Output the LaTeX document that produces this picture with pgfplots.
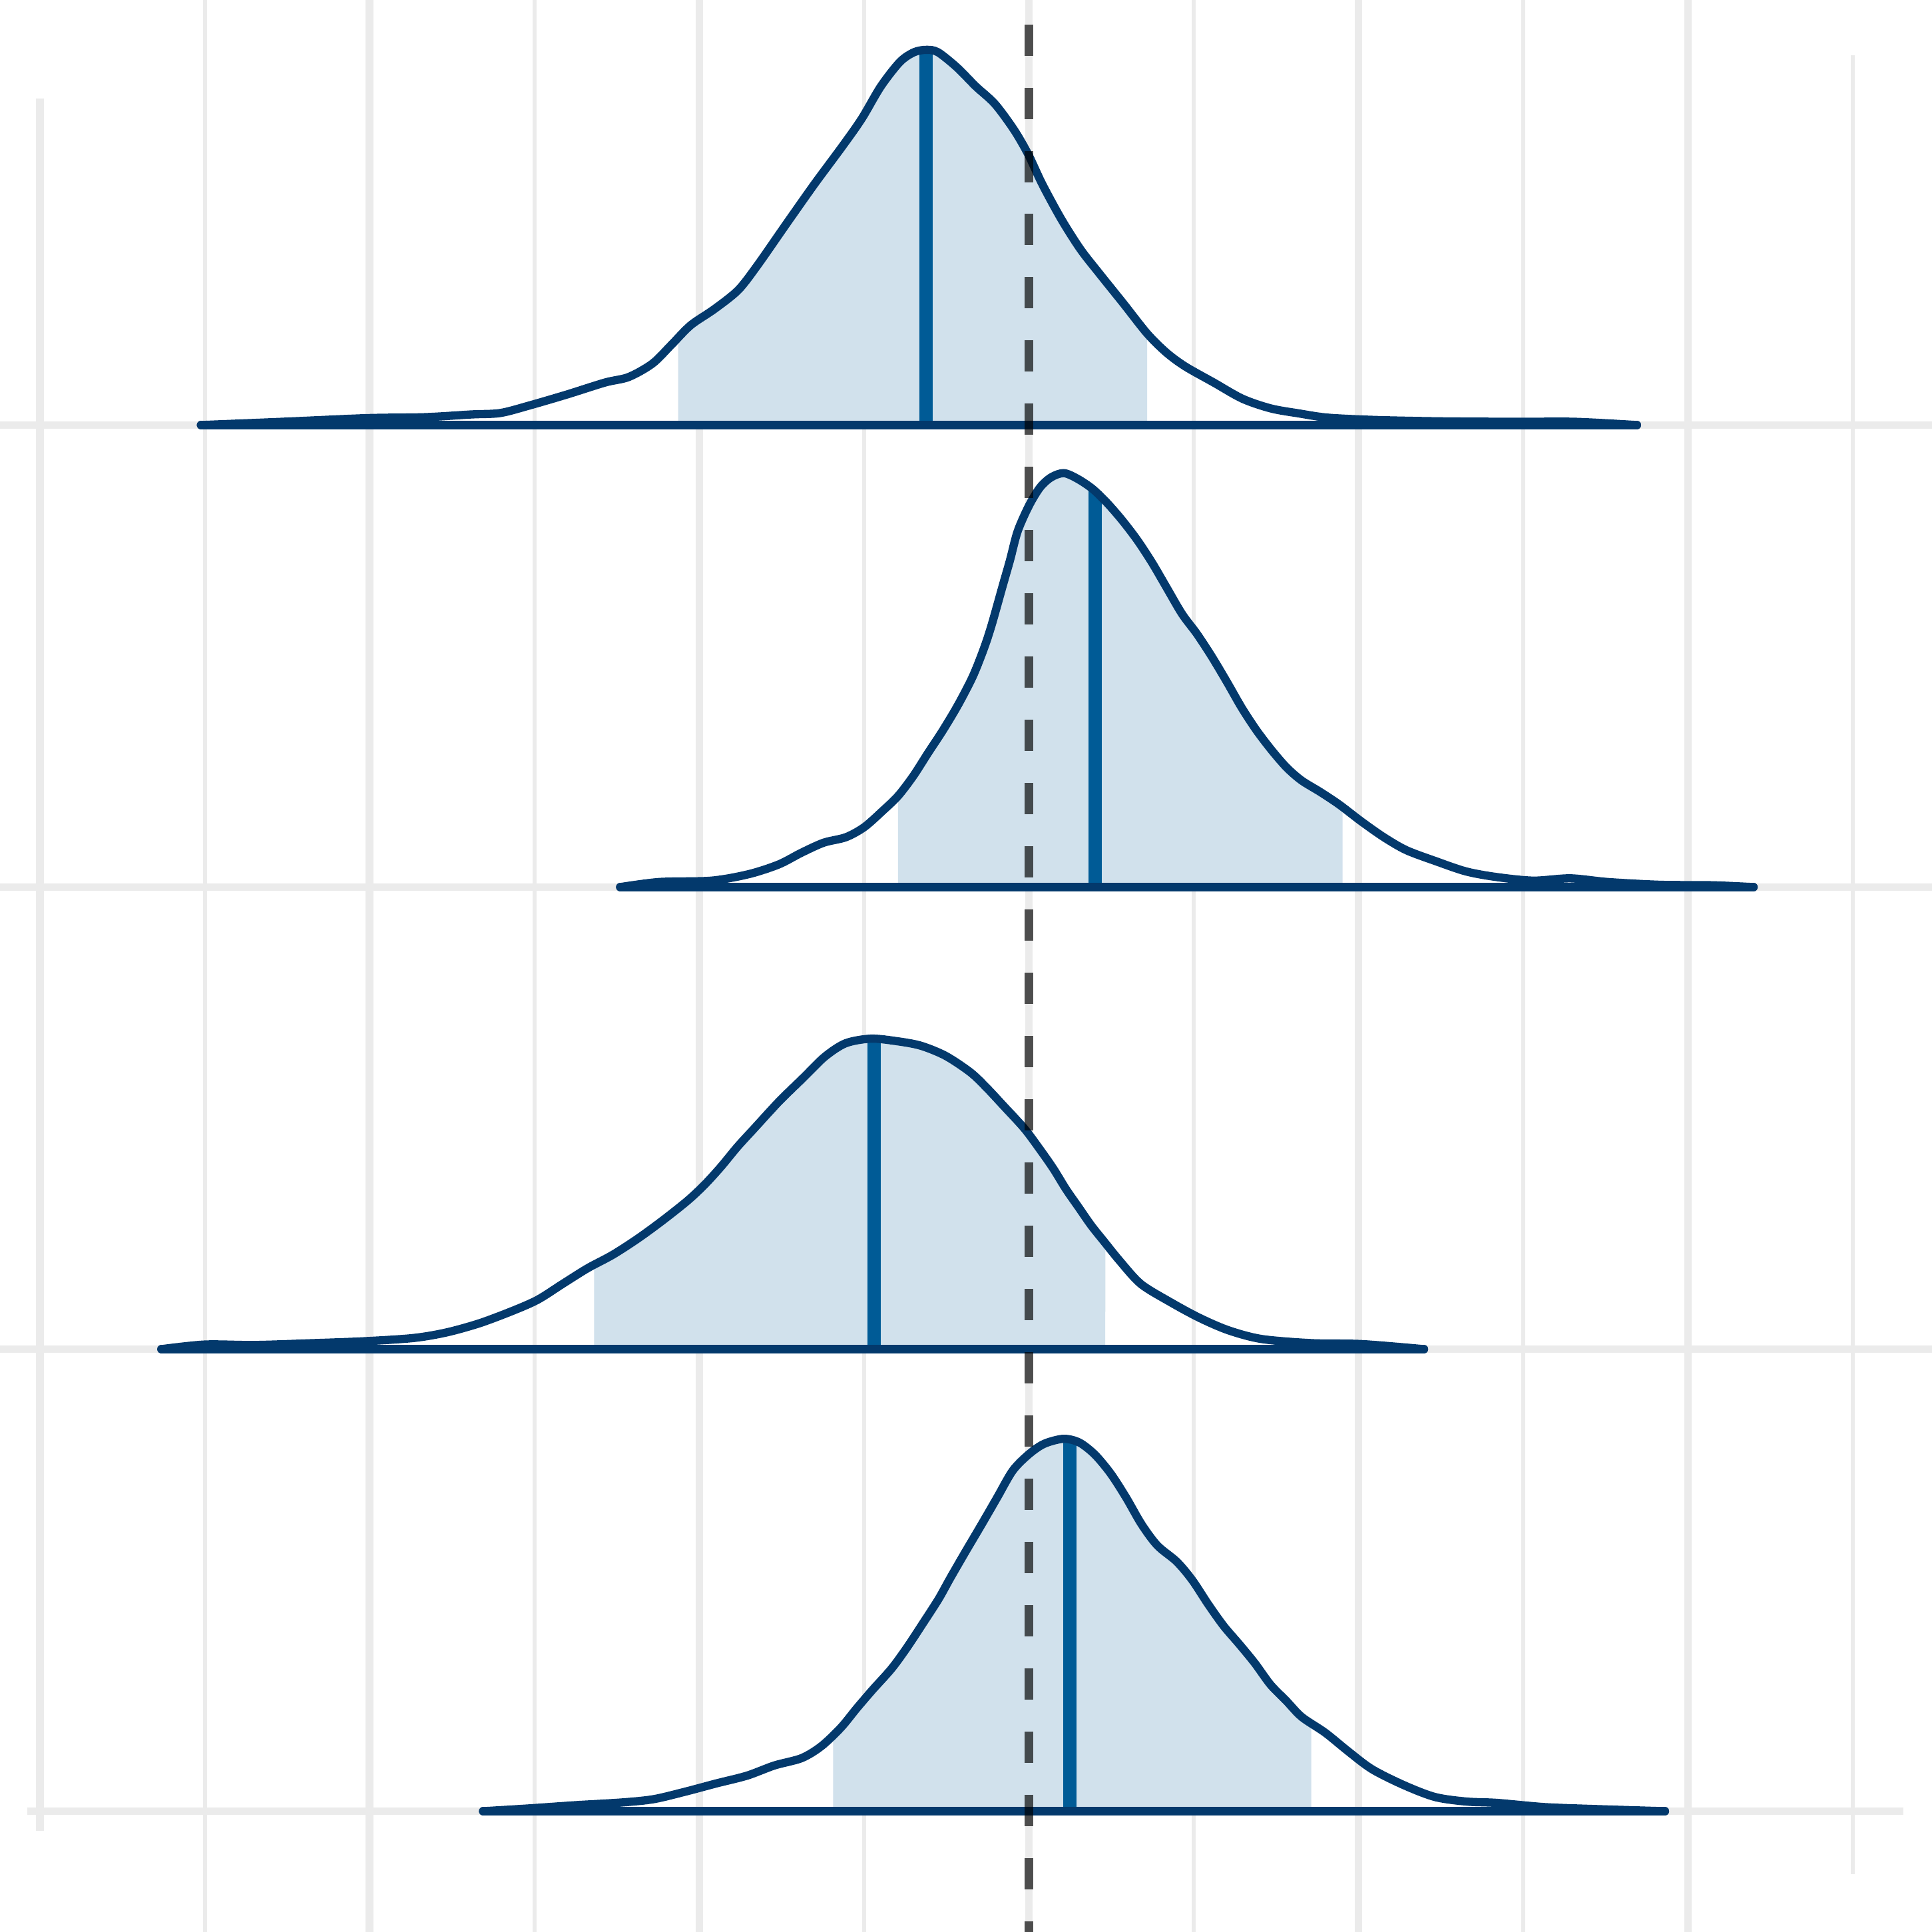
\documentclass[border=0pt]{standalone}
\usepackage{pgfplots}
\pgfplotsset{compat=1.18}
\usepackage{pgfplotstable}
\usepgfplotslibrary{fillbetween}
\definecolor{gridc}{HTML}{EBEBEB}
\definecolor{outl}{HTML}{03396C}
\definecolor{medc}{HTML}{005B96}
\definecolor{fillc}{HTML}{D1E1EC}

\pgfplotstableread{
x y
-2.512 4.000
-2.267 4.007
-2.008 4.015
-1.834 4.017
-1.690 4.023
-1.604 4.026
-1.517 4.042
-1.402 4.066
-1.286 4.092
-1.214 4.104
-1.142 4.133
-1.084 4.174
-1.026 4.216
-0.954 4.251
-0.882 4.292
-0.824 4.345
-0.738 4.433
-0.651 4.521
-0.565 4.604
-0.507 4.663
-0.449 4.733
-0.391 4.786
-0.348 4.807
-0.311 4.812
-0.276 4.807
-0.218 4.774
-0.161 4.733
-0.103 4.695
-0.045 4.639
-0.002 4.586
0.041 4.521
0.099 4.445
0.157 4.380
0.215 4.327
0.287 4.263
0.359 4.198
0.417 4.157
0.474 4.127
0.561 4.092
0.648 4.057
0.734 4.036
0.821 4.025
0.907 4.016
1.052 4.011
1.254 4.008
1.485 4.007
1.658 4.007
1.845 4.000
}\rA

\pgfplotstableread{
x y
-1.240 3.000
-1.122 3.011
-0.963 3.014
-0.850 3.028
-0.759 3.049
-0.691 3.074
-0.623 3.096
-0.555 3.108
-0.499 3.130
-0.442 3.166
-0.397 3.197
-0.351 3.240
-0.306 3.290
-0.261 3.339
-0.215 3.394
-0.170 3.456
-0.136 3.517
-0.113 3.567
-0.079 3.653
-0.057 3.708
-0.034 3.770
0.000 3.825
0.034 3.865
0.068 3.887
0.106 3.896
0.147 3.884
0.193 3.862
0.238 3.831
0.283 3.794
0.329 3.751
0.374 3.702
0.419 3.647
0.465 3.591
0.510 3.548
0.555 3.499
0.601 3.444
0.646 3.388
0.691 3.339
0.737 3.296
0.782 3.259
0.827 3.231
0.884 3.206
0.941 3.179
1.009 3.142
1.077 3.108
1.145 3.080
1.235 3.056
1.326 3.034
1.417 3.022
1.530 3.014
1.643 3.019
1.757 3.011
1.916 3.005
2.074 3.004
2.199 3.000
}\rB

\pgfplotstableread{
x y
-2.632 2.000
-2.500 2.010
-2.349 2.009
-2.172 2.013
-2.021 2.017
-1.869 2.024
-1.768 2.036
-1.667 2.056
-1.566 2.083
-1.490 2.107
-1.415 2.141
-1.339 2.175
-1.263 2.204
-1.187 2.239
-1.112 2.278
-1.036 2.321
-0.985 2.355
-0.935 2.394
-0.884 2.438
-0.834 2.477
-0.758 2.536
-0.682 2.589
-0.619 2.633
-0.556 2.662
-0.480 2.672
-0.405 2.667
-0.329 2.657
-0.253 2.635
-0.177 2.599
-0.127 2.565
-0.076 2.526
-0.013 2.477
0.037 2.429
0.075 2.390
0.113 2.346
0.151 2.307
0.189 2.268
0.227 2.234
0.277 2.190
0.340 2.141
0.429 2.102
0.517 2.068
0.605 2.041
0.706 2.022
0.858 2.013
1.010 2.011
1.199 2.000
}\rC

\pgfplotstableread{
x y
-1.656 1.000
-1.518 1.006
-1.376 1.013
-1.234 1.019
-1.139 1.026
-1.044 1.042
-0.949 1.060
-0.855 1.077
-0.772 1.099
-0.689 1.115
-0.629 1.141
-0.570 1.181
-0.523 1.222
-0.475 1.262
-0.416 1.309
-0.369 1.355
-0.321 1.407
-0.274 1.459
-0.238 1.505
-0.191 1.563
-0.143 1.621
-0.096 1.679
-0.049 1.737
-0.001 1.772
0.046 1.795
0.105 1.806
0.153 1.798
0.200 1.772
0.248 1.731
0.295 1.679
0.342 1.621
0.390 1.575
0.449 1.540
0.496 1.500
0.544 1.448
0.591 1.401
0.639 1.361
0.686 1.320
0.733 1.274
0.781 1.239
0.828 1.204
0.899 1.170
0.970 1.129
1.041 1.091
1.136 1.057
1.231 1.031
1.326 1.021
1.421 1.018
1.563 1.009
1.705 1.005
1.930 1.000
}\rD

\begin{document}
\begin{tikzpicture}
\begin{axis}[
  name=ax,
  scale only axis, width=400pt, height=400pt,
  xmin=-3.1215, xmax=2.7402, ymin=0.7387, ymax=4.92,
  axis line style={draw=none},
  xtick={-2,-1,0,1,2},
  minor xtick={-2.5,-1.5,-0.5,0.5,1.5},
  ytick={2,3,4},
  grid=both,
  major grid style={gridc, line width=1.6pt},
  minor grid style={gridc, line width=0.8pt},
  xticklabels={}, yticklabels={},
  major tick length=0pt, minor tick length=0pt,
]
% partial grid lines
\draw[gridc, line width=1.6pt] (axis cs:-3,0.957) -- (axis cs:-3,4.707);
\draw[gridc, line width=0.8pt] (axis cs:2.5,0.864) -- (axis cs:2.5,4.80);
\draw[gridc, line width=1.6pt] (axis cs:-3.039,1) -- (axis cs:2.654,1);

% ridge 1
\addplot[draw=none, name path=c1, smooth] table {\rA};
\addplot[draw=none, name path=b1] coordinates {(-3.2,4) (2.8,4)};
\addplot[fillc, draw=none] fill between[of=c1 and b1, soft clip={domain=-1.064:0.359}];
\addplot[medc, line width=2.76pt] coordinates {(-0.311,4) (-0.311,4.812)};
\addplot[outl, line width=1.7pt, line cap=round] coordinates {(-2.512,4) (1.845,4)};
\addplot[outl, line width=1.7pt, smooth, line cap=round, line join=round] table {\rA};

% ridge 2
\addplot[draw=none, name path=c2, smooth] table {\rB};
\addplot[draw=none, name path=b2] coordinates {(-3.2,3) (2.8,3)};
\addplot[fillc, draw=none] fill between[of=c2 and b2, soft clip={domain=-0.397:0.952}];
\addplot[medc, line width=2.76pt] coordinates {(0.202,3) (0.202,3.856)};
\addplot[outl, line width=1.7pt, line cap=round] coordinates {(-1.240,3) (2.199,3)};
\addplot[outl, line width=1.7pt, smooth, line cap=round, line join=round] table {\rB};

% ridge 3
\addplot[draw=none, name path=c3, smooth] table {\rC};
\addplot[draw=none, name path=b3] coordinates {(-3.2,2) (2.8,2)};
\addplot[fillc, draw=none] fill between[of=c3 and b3, soft clip={domain=-1.319:0.232}];
\addplot[medc, line width=2.76pt] coordinates {(-0.470,2) (-0.470,2.672)};
\addplot[outl, line width=1.7pt, line cap=round] coordinates {(-2.632,2) (1.199,2)};
\addplot[outl, line width=1.7pt, smooth, line cap=round, line join=round] table {\rC};

% ridge 4
\addplot[draw=none, name path=c4, smooth] table {\rD};
\addplot[draw=none, name path=b4] coordinates {(-3.2,1) (2.8,1)};
\addplot[fillc, draw=none] fill between[of=c4 and b4, soft clip={domain=-0.594:0.857}];
\addplot[medc, line width=2.76pt] coordinates {(0.124,1) (0.124,1.803)};
\addplot[outl, line width=1.7pt, line cap=round] coordinates {(-1.656,1) (1.930,1)};
\addplot[outl, line width=1.7pt, smooth, line cap=round, line join=round] table {\rD};

% reference line
\addplot[black, opacity=0.67, line width=1.7pt, dash pattern=on 6.48pt off 6.61pt, dash phase=8.04pt] coordinates {(0,4.92) (0,0.7387)};
\end{axis}
\pgfresetboundingbox
\path (ax.south west) rectangle (ax.north east);
\end{tikzpicture}
\end{document}
